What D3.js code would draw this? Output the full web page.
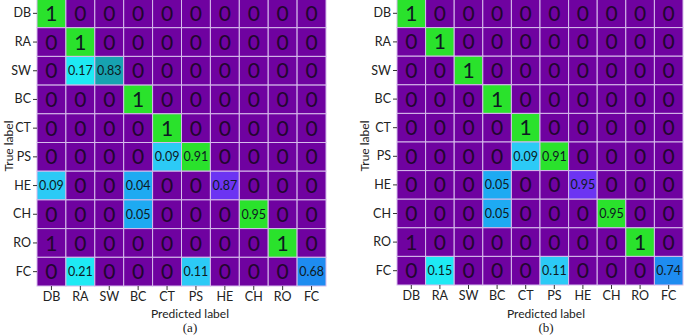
<!DOCTYPE html>
<meta charset="utf-8">
<script src="https://d3js.org/d3.v7.min.js"></script>
<style>
  body { margin: 0; background: #fff; }
  .axis path { display: none; }
  .axis line { stroke: #333; }
  .axis text { font-family: Lato, "Open Sans", sans-serif; font-size: 12.5px; fill: #222; }
  .title { font-family: Lato, "Open Sans", sans-serif; font-size: 12px; fill: #222; }
  .panel { font-family: "Liberation Serif", "DejaVu Serif", serif; font-size: 13px; fill: #222; }
</style>
<body></body>
<script>
// class names, shared by both axes
var labels = ["DB", "RA", "SW", "BC", "CT", "PS", "HE", "CH", "RO", "FC"];

// panel (a) confusion matrix, rows = true label
var matrixA = [
  [1, 0, 0, 0, 0, 0, 0, 0, 0, 0],
  [0, 1, 0, 0, 0, 0, 0, 0, 0, 0],
  [0, 0.17, 0.83, 0, 0, 0, 0, 0, 0, 0],
  [0, 0, 0, 1, 0, 0, 0, 0, 0, 0],
  [0, 0, 0, 0, 1, 0, 0, 0, 0, 0],
  [0, 0, 0, 0, 0.09, 0.91, 0, 0, 0, 0],
  [0.09, 0, 0, 0.04, 0, 0, 0.87, 0, 0, 0],
  [0, 0, 0, 0.05, 0, 0, 0, 0.95, 0, 0],
  [1, 0, 0, 0, 0, 0, 0, 0, 1, 0],
  [0, 0.21, 0, 0, 0, 0.11, 0, 0, 0, 0.68]
];

// panel (b) confusion matrix
var matrixB = [
  [1, 0, 0, 0, 0, 0, 0, 0, 0, 0],
  [0, 1, 0, 0, 0, 0, 0, 0, 0, 0],
  [0, 0, 1, 0, 0, 0, 0, 0, 0, 0],
  [0, 0, 0, 1, 0, 0, 0, 0, 0, 0],
  [0, 0, 0, 0, 1, 0, 0, 0, 0, 0],
  [0, 0, 0, 0, 0.09, 0.91, 0, 0, 0, 0],
  [0, 0, 0, 0.05, 0, 0, 0.95, 0, 0, 0],
  [0, 0, 0, 0.05, 0, 0, 0, 0.95, 0, 0],
  [1, 0, 0, 0, 0, 0, 0, 0, 1, 0],
  [0, 0.15, 0, 0, 0, 0.11, 0, 0, 0, 0.74]
];

// highlighted cells: [row, col, tone]; everything else is the base tone
var tonesA = [
  [0, 0, "green"], [1, 1, "green"], [2, 1, "cyan"], [2, 2, "teal"],
  [3, 3, "green"], [4, 4, "green"], [5, 4, "sky"], [5, 5, "green"],
  [6, 0, "sky"], [6, 3, "blue"], [6, 6, "violet"], [7, 3, "blue"],
  [7, 7, "green"], [8, 8, "green"], [9, 1, "cyan"], [9, 5, "sky"], [9, 9, "azure"]
];
var tonesB = [
  [0, 0, "green"], [1, 1, "green"], [2, 2, "green"], [3, 3, "green"],
  [4, 4, "green"], [5, 4, "sky"], [5, 5, "green"], [6, 3, "blue"],
  [6, 6, "violet"], [7, 3, "blue"], [7, 7, "green"], [8, 8, "green"],
  [9, 1, "cyan"], [9, 5, "sky"], [9, 9, "azure"]
];

var toneColor = d3.scaleOrdinal()
  .domain(["base", "green", "cyan", "teal", "sky", "blue", "violet", "azure"])
  .range(["#6f02a0", "#2ae22c", "#1eeaf4", "#17a2b0", "#2ccaf6", "#1eaaf2", "#6c34f2", "#1e8cf0"]);

var svg = d3.select("body").append("svg")
  .attr("width", 685)
  .attr("height", 335);

function drawPanel(matrix, tones, left, right, top, bottom, tag, titleX, yTitleX) {
  var x = d3.scaleBand().domain(labels).range([left, right]);
  var y = d3.scaleBand().domain(labels).range([top, bottom]);

  var toneMap = {};
  tones.forEach(function(t) { toneMap[t[0] + "-" + t[1]] = t[2]; });

  var cells = [];
  matrix.forEach(function(row, i) {
    row.forEach(function(v, j) {
      cells.push({ r: labels[i], c: labels[j], v: v, tone: toneMap[i + "-" + j] || "base" });
    });
  });

  var g = svg.append("g");

  g.selectAll("rect")
    .data(cells)
    .enter().append("rect")
    .attr("x", function(d) { return x(d.c); })
    .attr("y", function(d) { return y(d.r); })
    .attr("width", x.bandwidth())
    .attr("height", y.bandwidth())
    .attr("fill", function(d) { return toneColor(d.tone); })
    .attr("stroke", "#d6bcec")
    .attr("stroke-width", 1);

  g.selectAll("text.val")
    .data(cells)
    .enter().append("text")
    .attr("class", "val")
    .attr("x", function(d) { return x(d.c) + x.bandwidth() / 2; })
    .attr("y", function(d) { return y(d.r) + y.bandwidth() / 2; })
    .attr("dy", "0.36em")
    .attr("text-anchor", "middle")
    .style("font-family", "Lato, 'Open Sans', sans-serif")
    .style("font-size", function(d) { return (d.v === 0 || d.v === 1) ? "21px" : "12.5px"; })
    .style("fill", function(d) { return d.tone === "base" ? "#22062f" : "#0e1a22"; })
    .text(function(d) { return d.v; });

  svg.append("g")
    .attr("class", "axis")
    .attr("transform", "translate(" + left + ",0)")
    .call(d3.axisLeft(y).tickSize(4).tickPadding(2));

  svg.append("g")
    .attr("class", "axis")
    .attr("transform", "translate(0," + bottom + ")")
    .call(d3.axisBottom(x).tickSize(4).tickPadding(2));

  svg.append("text")
    .attr("class", "title")
    .attr("text-anchor", "middle")
    .attr("x", titleX)
    .attr("y", 318)
    .text("Predicted label");

  svg.append("text")
    .attr("class", "panel")
    .attr("text-anchor", "middle")
    .attr("x", titleX)
    .attr("y", 332)
    .text(tag);

  svg.append("text")
    .attr("class", "title")
    .attr("text-anchor", "middle")
    .attr("transform", "translate(" + yTitleX + ",146) rotate(-90)")
    .text("True label");
}

drawPanel(matrixA, tonesA, 37, 326, -1, 286, "(a)", 190, 13);
drawPanel(matrixB, tonesB, 397, 683, -1, 285, "(b)", 546, 369);
</script>
